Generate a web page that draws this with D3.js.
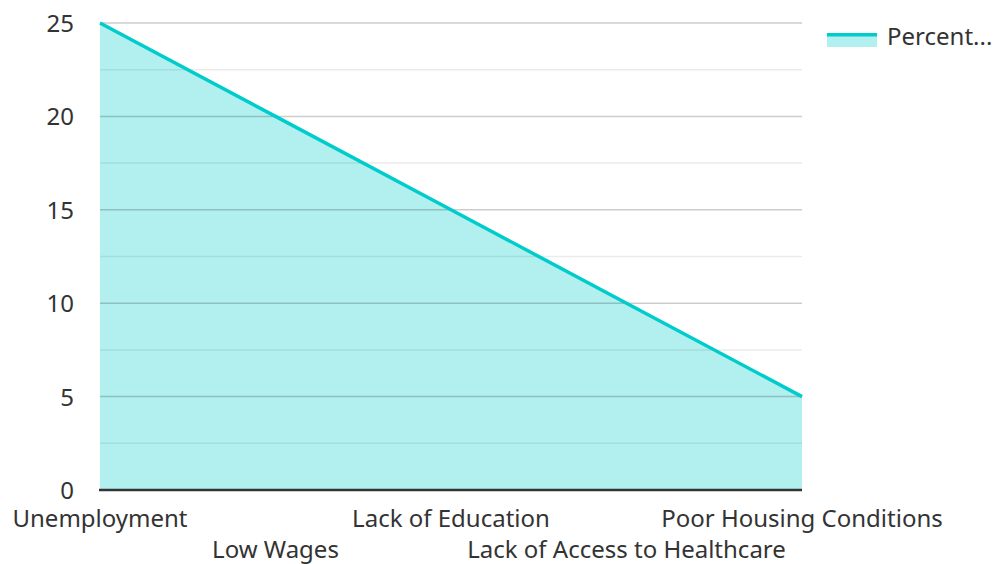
<!DOCTYPE html>
<html>
<head>
<meta charset="utf-8">
<script src="https://cdn.jsdelivr.net/npm/d3@7"></script>
<style>
  body { margin: 0; background: #fff; }
  svg text { font-family: "Noto Sans", "Open Sans", sans-serif; fill: #333; }
</style>
</head>
<body>
<svg class="chart" width="997" height="564"></svg>
<script>
const categories = ["Unemployment", "Low Wages", "Lack of Education", "Lack of Access to Healthcare", "Poor Housing Conditions"];
const percentValues = [25, 20, 15, 10, 5];
const yTicks = [0, 5, 10, 15, 20, 25];
const minorTicks = [2.5, 7.5, 12.5, 17.5, 22.5];
const seriesName = "Percent...";

const svg = d3.select("svg.chart");
const plotLeft = 100, plotRight = 802, plotTop = 23, plotBottom = 490;

const x = d3.scalePoint().domain(categories).range([plotLeft, plotRight]);
const y = d3.scaleLinear().domain([0, 25]).range([plotBottom, plotTop]);

// fill first so gridlines sit over it
const area = d3.area()
  .x((d, i) => x(categories[i]))
  .y0(y(0))
  .y1(d => y(d));

svg.append("path")
  .datum(percentValues)
  .attr("d", area)
  .attr("fill", "#00cccc")
  .attr("fill-opacity", 0.3);

svg.selectAll("line.minor")
  .data(minorTicks)
  .enter()
  .append("line")
  .attr("class", "minor")
  .attr("x1", plotLeft)
  .attr("x2", plotRight)
  .attr("y1", d => y(d))
  .attr("y2", d => y(d))
  .attr("stroke", "#000")
  .attr("stroke-opacity", 0.08)
  .attr("stroke-width", 1.5);

svg.selectAll("line.major")
  .data(yTicks.filter(d => d > 0))
  .enter()
  .append("line")
  .attr("class", "major")
  .attr("x1", plotLeft)
  .attr("x2", plotRight)
  .attr("y1", d => y(d))
  .attr("y2", d => y(d))
  .attr("stroke", "#000")
  .attr("stroke-opacity", 0.2)
  .attr("stroke-width", 1.5);

svg.selectAll("text.ytick")
  .data(yTicks)
  .enter()
  .append("text")
  .attr("class", "ytick")
  .attr("x", 74)
  .attr("y", d => y(d) + 9)
  .attr("text-anchor", "end")
  .attr("font-size", 24)
  .text(d => d);

const line = d3.line()
  .x((d, i) => x(categories[i]))
  .y(d => y(d));

svg.append("path")
  .datum(percentValues)
  .attr("d", line)
  .attr("fill", "none")
  .attr("stroke", "#00cccc")
  .attr("stroke-width", 3.5);

svg.append("line")
  .attr("x1", plotLeft - 1)
  .attr("x2", plotRight)
  .attr("y1", plotBottom)
  .attr("y2", plotBottom)
  .attr("stroke", "#333")
  .attr("stroke-width", 2.5);

svg.selectAll("text.xtick")
  .data(categories)
  .enter()
  .append("text")
  .attr("class", "xtick")
  .attr("x", d => x(d))
  .attr("y", (d, i) => (i % 2 === 0 ? 527 : 558))
  .attr("text-anchor", "middle")
  .attr("font-size", 24)
  .text(d => d);

// legend
const legend = svg.append("g").attr("transform", "translate(827, 33)");
legend.append("rect")
  .attr("x", 0).attr("y", 0)
  .attr("width", 50).attr("height", 14)
  .attr("fill", "#00cccc").attr("fill-opacity", 0.3);
legend.append("rect")
  .attr("x", 0).attr("y", 0)
  .attr("width", 50).attr("height", 3.5)
  .attr("fill", "#00cccc");
legend.append("text")
  .attr("x", 60).attr("y", 12)
  .attr("font-size", 24)
  .text(seriesName);
</script>
</body>
</html>
